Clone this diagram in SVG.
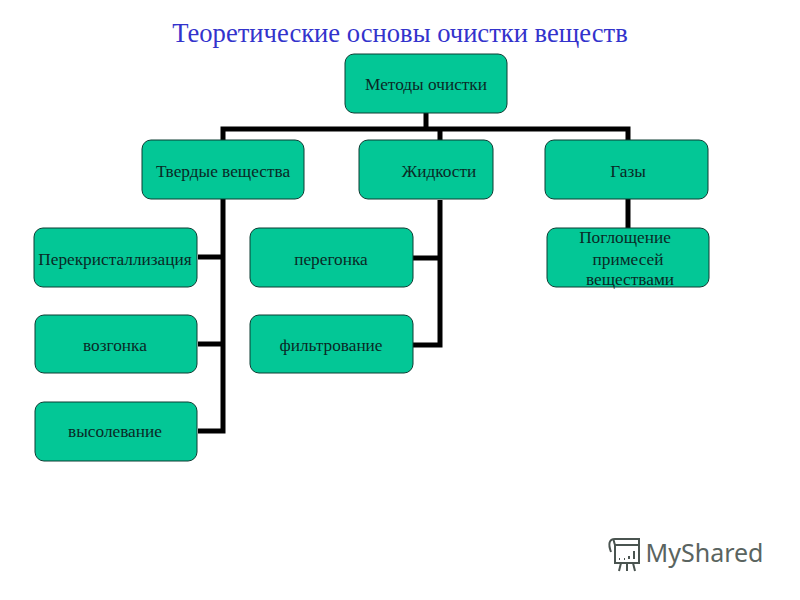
<svg xmlns="http://www.w3.org/2000/svg" width="800" height="600" viewBox="0 0 800 600">
<style>
text{font-family:"Liberation Serif",serif;text-anchor:middle}
.n rect{fill:#03c796;stroke:#0d3d33;stroke-width:1}
.n text{font-size:17.3px;fill:#0a2a26}
.c path{fill:none;stroke:#000;stroke-width:5}
.logo path,.logo rect{fill:none;stroke:#4a5450;stroke-width:2}
</style>
<rect width="800" height="600" fill="#fff"/>
<text x="400" y="42" font-size="26.6" fill="#3333cc">Теоретические основы очистки веществ</text>
<g class="c">
<path d="M426 113V128M223 200V129H628V140M440 129V140"/>
<path d="M223 200V431H198M223 257H198M223 344H198"/>
<path d="M440 200V345H413M440 258H413"/>
<path d="M628 199V228"/>
</g>
<g class="n" id="root"><rect x="345" y="54" width="162" height="59" rx="9"/><text x="426" y="90">Методы очистки</text></g>
<g class="n" id="solid"><rect x="142" y="140" width="162" height="59" rx="9"/><text x="223" y="177">Твердые вещества</text></g>
<g class="n" id="liquid"><rect x="359" y="140" width="134" height="59" rx="9"/><text x="439" y="177">Жидкости</text></g>
<g class="n" id="gas"><rect x="545" y="140" width="163" height="59" rx="9"/><text x="628" y="177">Газы</text></g>
<g class="n" id="recryst"><rect x="34" y="228" width="163" height="59" rx="9"/><text x="115" y="265">Перекристаллизация</text></g>
<g class="n" id="subl"><rect x="35" y="315" width="162" height="58" rx="9"/><text x="115" y="351">возгонка</text></g>
<g class="n" id="saltout"><rect x="35" y="402" width="162" height="59" rx="9"/><text x="115" y="437">высолевание</text></g>
<g class="n" id="dist"><rect x="250" y="228" width="163" height="59" rx="9"/><text x="331" y="265">перегонка</text></g>
<g class="n" id="filter"><rect x="250" y="315" width="163" height="58" rx="9"/><text x="331" y="351">фильтрование</text></g>
<g class="n" id="absorb"><rect x="547" y="228" width="162" height="59" rx="9"/><text x="625" y="243">Поглощение</text><text x="628" y="265">примесей</text><text x="630" y="285">веществами</text></g>
<g class="logo" id="logo">
<rect x="615" y="545" width="24" height="18"/>
<path d="M611 552c-3-8-2-13 4-13h24v6M615 545c-1-3-2-6 0-6M621 563l-2 8M627 563v8M633 563l2 8M619 559h1M624 559h1M629 559v-3M634 559v-8"/>
<text x="704.500" y="562" font-size="25" fill="#5a6460" style="font-family:'Noto Sans',sans-serif">MyShared</text>
</g>
</svg>
